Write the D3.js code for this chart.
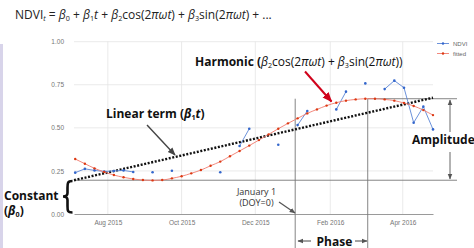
<!DOCTYPE html>
<html>
<head>
<meta charset="utf-8">
<title>Harmonic NDVI model</title>
<script src="https://d3js.org/d3.v7.min.js"></script>
<style>
    body { margin: 0; background: #fff; }
    svg { display: block; }
    .tick text { font-family: "Liberation Sans", Arial, sans-serif; font-size: 6.5px; fill: #757575; }
    .note { font-family: "Open Sans", sans-serif; font-weight: bold; font-size: 12px; fill: #111; }
</style>
</head>
<body>
<script>
// 8-day steps of the series
const dates = ["2015-07-05","2015-07-13","2015-07-21","2015-07-29","2015-08-06","2015-08-14","2015-08-22","2015-08-30",
    "2015-09-07","2015-09-15","2015-09-23","2015-10-01","2015-10-09","2015-10-17","2015-10-25","2015-11-02",
    "2015-11-10","2015-11-18","2015-11-26","2015-12-04","2015-12-12","2015-12-20","2015-12-28","2016-01-05",
    "2016-01-13","2016-01-21","2016-01-29","2016-02-06","2016-02-14","2016-02-22","2016-03-01","2016-03-09",
    "2016-03-17","2016-03-25","2016-04-02","2016-04-10","2016-04-18","2016-04-26"];

// observed NDVI (null = no observation)
const ndvi = [0.240,0.262,0.253,0.247,0.250,0.253,0.244,null,0.242,null,0.251,null,null,null,null,0.242,
    null,0.395,0.495,null,null,0.402,null,0.516,0.598,null,null,0.607,0.710,null,0.758,null,
    0.725,0.774,0.733,0.530,0.623,0.491];

// fitted harmonic model
const fitted = [0.319,0.292,0.265,0.244,0.226,0.213,0.203,0.197,0.195,0.197,0.207,0.219,0.236,0.255,0.280,0.304,
    0.335,0.366,0.397,0.429,0.462,0.495,0.526,0.555,0.584,0.607,0.629,0.646,0.658,0.665,0.669,0.669,
    0.665,0.658,0.644,0.627,0.603,0.574];

// linear term (start / end of the period)
const linearDates = ["2015-07-04", "2016-04-26"];
const linearValues = [0.196, 0.675];

const yTicks = [0, 0.25, 0.5, 0.75, 1];
const xTicks = ["2015-08-01","2015-10-01","2015-12-01","2016-02-01","2016-04-01"];

// annotation anchors
const jan1Date = "2016-01-03";
const peakDate = "2016-03-03";
const ampTop = 0.669, ampBottom = 0.196;

const parse = d3.timeParse("%Y-%m-%d");
const W = 474, H = 248;

const svg = d3.select("body").append("svg").attr("width", W).attr("height", H);

const defs = svg.append("defs");
function marker(id, color, size) {
    defs.append("marker").attr("id", id).attr("viewBox", "0 0 10 10")
        .attr("refX", 9).attr("refY", 5).attr("markerWidth", size).attr("markerHeight", size)
        .attr("orient", "auto-start-reverse").attr("markerUnits", "userSpaceOnUse")
        .append("path").attr("d", "M0,1 L10,5 L0,9 Z").attr("fill", color);
}
marker("arrGray", "#444", 8);
marker("arrRed", "#d0021b", 10);
marker("arrThin", "#555", 6);

// slide edge
svg.append("rect").attr("x", 0).attr("y", 44).attr("width", 3).attr("height", H - 44).attr("fill", "#d8d4ea");

const x = d3.scaleTime().domain([parse("2015-07-04"), parse("2016-04-26")]).range([74, 433]);
const y = d3.scaleLinear().domain([0, 1]).range([214, 41.7]);

// grid
svg.append("g").selectAll("line").data(yTicks.slice(1)).join("line")
    .attr("x1", 74).attr("x2", 433).attr("y1", d => y(d)).attr("y2", d => y(d))
    .attr("stroke", "#e4e4e4").attr("stroke-width", 0.8);
svg.append("g").selectAll("line").data(xTicks).join("line")
    .attr("x1", d => x(parse(d))).attr("x2", d => x(parse(d)))
    .attr("y1", y(1)).attr("y2", y(0))
    .attr("stroke", "#e4e4e4").attr("stroke-width", 0.8);

// axes
const yAxis = svg.append("g").attr("transform", "translate(67,0)")
    .call(d3.axisLeft(y).tickValues(yTicks).tickFormat(d3.format(".2f")).tickSize(0));
yAxis.select(".domain").remove();
const xAxis = svg.append("g").attr("transform", `translate(0,${y(0)})`)
    .call(d3.axisBottom(x).tickValues(xTicks.map(parse)).tickFormat(d3.timeFormat("%b %Y")).tickSize(0).tickPadding(6));
xAxis.select(".domain").attr("stroke", "#9a9a9a");

// annotation lines
const ga = svg.append("g").attr("stroke", "#777").attr("stroke-width", 0.9).attr("fill", "none");
ga.append("line").attr("x1", 74).attr("x2", 457).attr("y1", y(ampBottom)).attr("y2", y(ampBottom));
ga.append("line").attr("x1", x(parse(peakDate))).attr("x2", 457).attr("y1", y(ampTop)).attr("y2", y(ampTop));
ga.append("line").attr("x1", x(parse(jan1Date))).attr("x2", x(parse(jan1Date))).attr("y1", y(ampTop)).attr("y2", H);
ga.append("line").attr("x1", x(parse(peakDate))).attr("x2", x(parse(peakDate))).attr("y1", y(ampTop)).attr("y2", H);

// linear term
svg.append("path")
    .datum(linearDates.map((d, i) => ({ d: parse(d), v: linearValues[i] })))
    .attr("d", d3.line().x(p => x(p.d)).y(p => y(p.v)))
    .attr("stroke", "#111").attr("stroke-width", 2.4).attr("stroke-dasharray", "2,1.6").attr("fill", "none");

// NDVI
const obs = dates.map((d, i) => ({ d: parse(d), v: ndvi[i] }));
svg.append("path").datum(obs)
    .attr("d", d3.line().defined(p => p.v !== null).x(p => x(p.d)).y(p => y(p.v)))
    .attr("stroke", "#5b86d6").attr("stroke-width", 0.9).attr("fill", "none");
svg.append("g").selectAll("circle").data(obs.filter(p => p.v !== null)).join("circle")
    .attr("cx", p => x(p.d)).attr("cy", p => y(p.v)).attr("r", 1.3).attr("fill", "#3366cc");

// fitted
const fit = dates.map((d, i) => ({ d: parse(d), v: fitted[i] }));
svg.append("path").datum(fit)
    .attr("d", d3.line().curve(d3.curveMonotoneX).x(p => x(p.d)).y(p => y(p.v)))
    .attr("stroke", "#f07a6e").attr("stroke-width", 0.9).attr("fill", "none");
svg.append("g").selectAll("circle").data(fit).join("circle")
    .attr("cx", p => x(p.d)).attr("cy", p => y(p.v)).attr("r", 1.2).attr("fill", "#dc3912");

// legend
const legend = [{ name: "NDVI", line: "#5b86d6", dot: "#3366cc" }, { name: "fitted", line: "#f07a6e", dot: "#dc3912" }];
const lg = svg.append("g").selectAll("g").data(legend).join("g")
    .attr("transform", (d, i) => `translate(437,${43.5 + i * 10})`);
lg.append("line").attr("x1", 0).attr("x2", 12).attr("stroke", d => d.line).attr("stroke-width", 0.9);
lg.append("circle").attr("cx", 6).attr("r", 1.2).attr("fill", d => d.dot);
lg.append("text").attr("x", 16).attr("dy", "0.35em").text(d => d.name)
    .attr("font-family", "Liberation Sans, Arial, sans-serif").attr("font-size", 6).attr("fill", "#666");

// formula
const f = svg.append("text").attr("x", 15).attr("y", 19)
    .attr("font-family", "Open Sans, sans-serif").attr("font-size", 12).attr("fill", "#222");
function put(t, parts) {
    parts.forEach(p => {
        const s = t.append("tspan").text(p[0]);
        if (p[1] === "i") s.attr("font-style", "italic");
        if (p[1] === "sub") s.attr("font-size", "0.6em").attr("dy", "0.3em");
        if (p[1] === "subi") s.attr("font-size", "0.6em").attr("dy", "0.3em").attr("font-style", "italic");
        if (p[2] === "up") s.attr("dy", "-0.18em");
    });
}
put(f, [["NDVI"], ["t", "subi"], [" = ", null, "up"], ["β", "i"], ["0", "sub"], [" + ", null, "up"], ["β", "i"], ["1", "sub"],
    ["t", "i", "up"], [" + "], ["β", "i"], ["2", "sub"], ["cos(2", null, "up"], ["πωt", "i"], [") + "], ["β", "i"], ["3", "sub"],
    ["sin(2", null, "up"], ["πωt", "i"], [") + ..."]]);

// harmonic label
const h = svg.append("text").attr("class", "note").attr("x", 195).attr("y", 65.5);
put(h, [["Harmonic ("], ["β", "i"], ["2", "sub"], ["cos(2", null, "up"], ["πωt", "i"], [") + "], ["β", "i"], ["3", "sub"],
    ["sin(2", null, "up"], ["πωt", "i"], ["))"]]);
h.selectAll("tspan").filter(function () { return !/Harmonic/.test(this.textContent); }).attr("font-weight", "normal");
svg.append("line").attr("x1", 305).attr("y1", 71.5).attr("x2", 331.5).attr("y2", 101.5)
    .attr("stroke", "#d0021b").attr("stroke-width", 2).attr("marker-end", "url(#arrRed)");

// linear label
const l = svg.append("text").attr("class", "note").attr("x", 106).attr("y", 118);
put(l, [["Linear term ("], ["β", "i"], ["1", "sub"], ["t", "i", "up"], [")"]]);
svg.append("line").attr("x1", 147).attr("y1", 125).attr("x2", 175).attr("y2", 155)
    .attr("stroke", "#444").attr("stroke-width", 1.4).attr("marker-end", "url(#arrGray)");

// constant
svg.append("text").attr("class", "note").attr("x", 4).attr("y", 200).attr("font-size", 11.5).text("Constant");
const c = svg.append("text").attr("class", "note").attr("x", 4).attr("y", 215).attr("font-size", 11.5);
put(c, [["("], ["β", "i"], ["0", "sub"], [")", null, "up"]]);
svg.append("path")
    .attr("d", "M72.5,181 C67.5,181 67.5,183 67.5,188 L67.5,193 C67.5,196 65.5,196.5 63,196.5 C65.5,196.5 67.5,197 67.5,200 L67.5,206 C67.5,211 67.5,212.5 72.5,212.5")
    .attr("stroke", "#111").attr("stroke-width", 2.6).attr("fill", "none");

// january 1
svg.append("text").attr("x", 256.5).attr("y", 195).attr("text-anchor", "middle")
    .attr("font-family", "Open Sans, sans-serif").attr("font-size", 9).attr("fill", "#333").text("January 1");
svg.append("text").attr("x", 256.5).attr("y", 205.5).attr("text-anchor", "middle")
    .attr("font-family", "Open Sans, sans-serif").attr("font-size", 9).attr("fill", "#333").text("(DOY=0)");
svg.append("line").attr("x1", 279).attr("y1", 202).attr("x2", 295).attr("y2", 213)
    .attr("stroke", "#555").attr("stroke-width", 1.2).attr("marker-end", "url(#arrThin)");

// amplitude
svg.append("text").attr("class", "note").attr("x", 412).attr("y", 144).text("Amplitude");
svg.append("line").attr("x1", 450).attr("x2", 450).attr("y1", 132).attr("y2", 100)
    .attr("stroke", "#555").attr("stroke-width", 0.9).attr("marker-end", "url(#arrThin)");
svg.append("line").attr("x1", 450).attr("x2", 450).attr("y1", 152).attr("y2", 179)
    .attr("stroke", "#555").attr("stroke-width", 0.9).attr("marker-end", "url(#arrThin)");

// phase
svg.append("text").attr("class", "note").attr("x", 316.5).attr("y", 245.5).attr("font-size", 12.5).text("Phase");
svg.append("line").attr("x1", 311).attr("x2", 298).attr("y1", 241).attr("y2", 241)
    .attr("stroke", "#444").attr("stroke-width", 1).attr("marker-end", "url(#arrThin)");
svg.append("line").attr("x1", 355).attr("x2", 367).attr("y1", 241).attr("y2", 241)
    .attr("stroke", "#444").attr("stroke-width", 1).attr("marker-end", "url(#arrThin)");
</script>
</body>
</html>
